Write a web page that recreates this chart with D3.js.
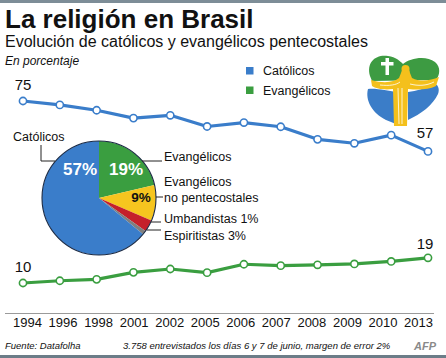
<!DOCTYPE html>
<html><head><meta charset="utf-8">
<script src="https://cdn.jsdelivr.net/npm/d3@7"></script>
<style>
html,body{margin:0;padding:0;background:#fff;}
svg{display:block;font-family:"Liberation Sans",Arial,Helvetica,sans-serif;}
</style></head>
<body><svg id="c" width="446" height="358"></svg>
<script>
const years = ["1994","1996","1998","2001","2002","2005","2006","2007","2008","2009","2010","2013"];
const catolicos = [75, 73.6, 71.7, 68.9, 69.9, 65.9, 67.3, 65.8, 61.3, 59.9, 62.8, 57];
const evangelicos = [10, 10.8, 11.3, 13.8, 15, 13.7, 16.7, 16.2, 16.5, 16.8, 17.7, 19];
const pieLabels = ["Evangélicos", "Evangélicos no pentecostales", "Espiritistas", "Umbandistas", "Católicos"];
const pieValues = [19, 9, 3, 1, 57];
const legendLabels = ["Católicos", "Evangélicos"];

const BLUE = "#3a7dca", GREEN = "#3a9e40", YELLOW = "#f6c51f", RED = "#c5202b", GRAY = "#7f7f7f";
const pieColors = [GREEN, YELLOW, RED, GRAY, BLUE];

const svg = d3.select("#c");
svg.append("rect").attr("width",446).attr("height",358).attr("fill","#fff");
svg.append("rect").attr("x",0).attr("y",0).attr("width",446).attr("height",3).attr("fill","#7d8d97");
svg.append("rect").attr("x",0).attr("y",355).attr("width",446).attr("height",3).attr("fill","#6c7d88");

// Titles
svg.append("text").attr("x",5).attr("y",28).attr("font-size",26).attr("font-weight","bold").attr("fill","#111").text("La religión en Brasil");
svg.append("text").attr("x",5).attr("y",47).attr("font-size",16).attr("fill","#111").text("Evolución de católicos y evangélicos pentecostales");
svg.append("text").attr("x",5).attr("y",65).attr("font-size",12).attr("font-style","italic").attr("fill","#111").text("En porcentaje");

// Scales
const x = d3.scalePoint().domain(years).range([23, 428]);
const xLab = d3.scalePoint().domain(years).range([27, 418]);
const y = d3.scaleLinear().domain([0, 75]).range([311, 101]);

// Axis
svg.append("line").attr("x1",5).attr("x2",434).attr("y1",313.5).attr("y2",313.5).attr("stroke","#9a9a9a").attr("stroke-width",1);
const ax = svg.append("g").attr("transform","translate(0,318)").call(d3.axisBottom(xLab).tickSize(0).tickPadding(0));
ax.select(".domain").remove();
ax.selectAll("text").attr("font-size",13).attr("fill","#111").attr("font-family","'Liberation Sans',Arial,sans-serif").attr("dy","0.71em");

// Lines
function drawSeries(vals, color){
  const line = d3.line().x((d,i)=>x(years[i])).y(d=>y(d));
  svg.append("path").datum(vals).attr("d",line).attr("fill","none").attr("stroke",color).attr("stroke-width",3.2).attr("stroke-linejoin","round");
  svg.append("g").selectAll("circle").data(vals).join("circle")
    .attr("cx",(d,i)=>x(years[i])).attr("cy",d=>y(d)).attr("r",3.6)
    .attr("fill","#fff").attr("stroke",color).attr("stroke-width",1.6);
}
drawSeries(catolicos, BLUE);
drawSeries(evangelicos, GREEN);

// End labels
const endLab = (txt, xx, yy) => svg.append("text").attr("x",xx).attr("y",yy).attr("text-anchor","middle").attr("font-size",15).attr("fill","#111").text(txt);
endLab(catolicos[0], x(years[0]), y(catolicos[0]) - 11);
endLab(catolicos[catolicos.length-1], x(years[years.length-1]) - 3, y(catolicos[catolicos.length-1]) - 13);
endLab(evangelicos[0], x(years[0]), y(evangelicos[0]) - 11);
endLab(evangelicos[evangelicos.length-1], x(years[years.length-1]) - 3, y(evangelicos[evangelicos.length-1]) - 9);

// Legend
legendLabels.forEach((l,i)=>{
  const ly = 67 + i*19.5;
  svg.append("rect").attr("x",246).attr("y",ly).attr("width",7.5).attr("height",7.5).attr("fill",[BLUE,GREEN][i]);
  svg.append("text").attr("x",263).attr("y",ly+8).attr("font-size",12.5).attr("fill","#111").text(l);
});

// Logo
const logo = svg.append("g");
logo.append("path").attr("fill","#3d9b42").attr("d","M370,76 C366,62 376,54 388,56 C396,57 400,61 403,64 C410,58 426,55 435,62 C441,67 440,75 436,80 L372,81 Z");
logo.append("path").attr("fill","#3b7dc8").attr("d","M368,89 C365,100 372,113 386,120 L396,124 L396,92 C388,91 377,88 368,89 Z");
logo.append("path").attr("fill","#3b7dc8").attr("d","M408,92 L408,120 C421,114 433,105 438,94 C440,89 438,84 434,84 C426,88 416,91 408,92 Z");
logo.append("path").attr("fill","#f4c01c").attr("d","M371,80 C385,84 394,82 399,78 L401,73 C402,67 410,67 410,73 L412,78 C420,82 430,81 439,77 L436,86 C428,90 418,90 408,89 L407,126 L394,126 L393,89 C385,90 376,89 372,86 Z");
logo.append("circle").attr("cx",405.5).attr("cy",69).attr("r",4).attr("fill","#f4c01c");
logo.append("rect").attr("x",385.5).attr("y",58).attr("width",3.5).attr("height",17).attr("fill","#fff");
logo.append("rect").attr("x",381).attr("y",62).attr("width",12.5).attr("height",3.5).attr("fill","#fff");
logo.append("path").attr("fill","none").attr("stroke","#fff").attr("stroke-width",0.8).attr("d","M398,88 L399,124 M402,88 L402,124 M380,85 C390,86 396,85 400,82 M410,84 C418,86 426,86 434,82");

// Pie
const cx = 99, cy = 198, R = 57;
const pie = d3.pie().sort(null).value(d=>d)(pieValues);
const arc = d3.arc().innerRadius(0).outerRadius(R);
const pg = svg.append("g").attr("transform",`translate(${cx},${cy})`);
pg.selectAll("path").data(pie).join("path").attr("d",arc).attr("fill",(d,i)=>pieColors[i]);
pg.append("circle").attr("r",R).attr("fill","none").attr("stroke","#1b2a44").attr("stroke-width",1.1);

pg.append("text").attr("x",-19).attr("y",-23).attr("text-anchor","middle").attr("font-size",17).attr("font-weight","bold").attr("fill","#fff").text(pieValues[4]+"%");
pg.append("text").attr("x",27).attr("y",-23).attr("text-anchor","middle").attr("font-size",17).attr("font-weight","bold").attr("fill","#fff").text(pieValues[0]+"%");
pg.append("text").attr("x",42).attr("y",3.5).attr("text-anchor","middle").attr("font-size",13.5).attr("font-weight","bold").attr("fill","#111").text(pieValues[1]+"%");

// Pie labels & leaders
const lead = (pts) => svg.append("polyline").attr("points",pts.map(p=>p.join(",")).join(" ")).attr("fill","none").attr("stroke","#222").attr("stroke-width",1);
const plab = (lines, xx, yy) => {
  const t = svg.append("text").attr("x",xx).attr("y",yy).attr("font-size",12.5).attr("fill","#111");
  lines.forEach((s,i)=>t.append("tspan").attr("x",xx).attr("dy",i?16:0).text(s));
};
plab([pieLabels[4]], 13, 141);
lead([[41,145],[41,161],[55,161]]);
plab([pieLabels[0]], 164, 160.5);
lead([[142,161],[162,161]]);
plab(["Evangélicos","no pentecostales"], 164, 186);
lead([[156,197],[163,197]]);
plab([pieLabels[3]+" "+pieValues[3]+"%"], 164, 223);
lead([[151,222],[161,222]]);
plab([pieLabels[2]+" "+pieValues[2]+"%"], 164, 239.5);
lead([[147,230],[161,230]]);

// Footer
svg.append("text").attr("x",5).attr("y",349).attr("font-size",9.5).attr("font-style","italic").attr("fill","#111").text("Fuente: Datafolha");
svg.append("text").attr("x",123).attr("y",349).attr("font-size",9.5).attr("font-style","italic").attr("fill","#111").text("3.758 entrevistados los días 6 y 7 de junio, margen de error 2%");
svg.append("text").attr("x",414).attr("y",350).attr("font-size",11).attr("font-style","italic").attr("font-weight","bold").attr("fill","#8a8a8a").text("AFP");
</script></body></html>
